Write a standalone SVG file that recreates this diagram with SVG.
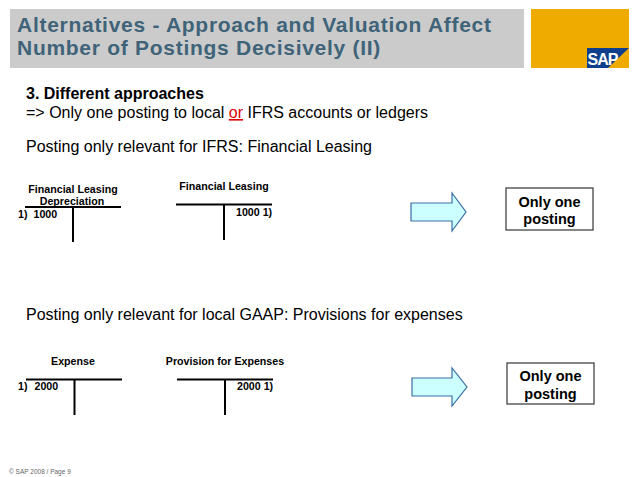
<svg xmlns="http://www.w3.org/2000/svg" width="638" height="477" viewBox="0 0 638 477">
<style>
text{font-family:"Liberation Sans",Arial,sans-serif;fill:#000}
.title{font-size:21px;font-weight:bold;fill:#3f6379;letter-spacing:.72px}
.body{font-size:16px}
.lbl{font-size:10.650px;font-weight:bold}
.box{fill:#fff;stroke:#444;stroke-width:1.3}
.arrow{fill:#ccffff;stroke:#3a6ea5;stroke-width:1.2}
.t{fill:none;stroke:#000;stroke-width:2}
.big{font-size:14.500px;font-weight:bold;text-anchor:middle}
.mid{text-anchor:middle}
</style>
<rect width="638" height="477" fill="#fff"/>
<g id="header">
<rect x="10" y="9" width="514" height="59" fill="#cbcbcb"/>
<text class="title" x="17" y="32">Alternatives - Approach and Valuation Affect</text>
<text class="title" x="17" y="55">Number of Postings Decisively (II)</text>
</g>
<g id="logo">
<rect x="531" y="9" width="98" height="59" fill="#f0ab00"/>
<polygon points="587,48 629,48 608,68 587,68" fill="#0f3f8c"/>
<text x="587.500" y="65" style="font-size:16px;font-weight:bold;fill:#fff;letter-spacing:-1px">SAP</text>
</g>
<g id="intro">
<text class="body" x="26" y="99" font-weight="bold">3. Different approaches</text>
<text class="body" x="26" y="118">=&gt; Only one posting to local <tspan fill="#e00000" text-decoration="underline">or</tspan> IFRS accounts or ledgers</text>
<text class="body" x="26" y="152">Posting only relevant for IFRS: Financial Leasing</text>
<text class="body" x="26" y="320">Posting only relevant for local GAAP: Provisions for expenses</text>
</g>
<g id="connectors">
<path class="t" d="M25 207H121M73 207V242"/>
<path class="t" d="M176 204.500H272M224 204.500V240"/>
<path class="t" d="M26 379.500H122M74.500 379.500V415"/>
<path class="t" d="M177 379.500H273M225 379.500V415"/>
</g>
<g id="account1">
<text class="lbl mid" x="73" y="192.500">Financial Leasing</text>
<text class="lbl mid" x="72" y="204.500">Depreciation</text>
<text class="lbl" x="18" y="217.500">1)</text>
<text class="lbl" x="33.500" y="217.500">1000</text>
</g>
<g id="account2">
<text class="lbl mid" x="224" y="190">Financial Leasing</text>
<text class="lbl" x="236" y="215.500">1000 1)</text>
</g>
<g id="account3">
<text class="lbl mid" x="73" y="365">Expense</text>
<text class="lbl" x="18" y="390">1)</text>
<text class="lbl" x="34.500" y="390">2000</text>
</g>
<g id="account4">
<text class="lbl mid" x="225" y="365">Provision for Expenses</text>
<text class="lbl" x="237" y="390">2000 1)</text>
</g>
<g id="arrow1"><polygon class="arrow" points="411,203 452,203 452,193 466,212 452,231 452,221 411,221"/></g>
<g id="arrow2"><polygon class="arrow" points="412,378 452,378 452,368 467,387 452,406 452,396 412,396"/></g>
<g id="result1">
<rect class="box" x="506" y="188" width="87" height="42"/>
<text class="big" x="549.500" y="206.500">Only one</text>
<text class="big" x="549.500" y="224">posting</text>
</g>
<g id="result2">
<rect class="box" x="507" y="363" width="87" height="41"/>
<text class="big" x="550.500" y="381">Only one</text>
<text class="big" x="550.500" y="398.500">posting</text>
</g>
<g id="footer">
<text x="9" y="474" style="font-size:6.500px;fill:#666">© SAP 2008 / Page 9</text>
</g>
</svg>
